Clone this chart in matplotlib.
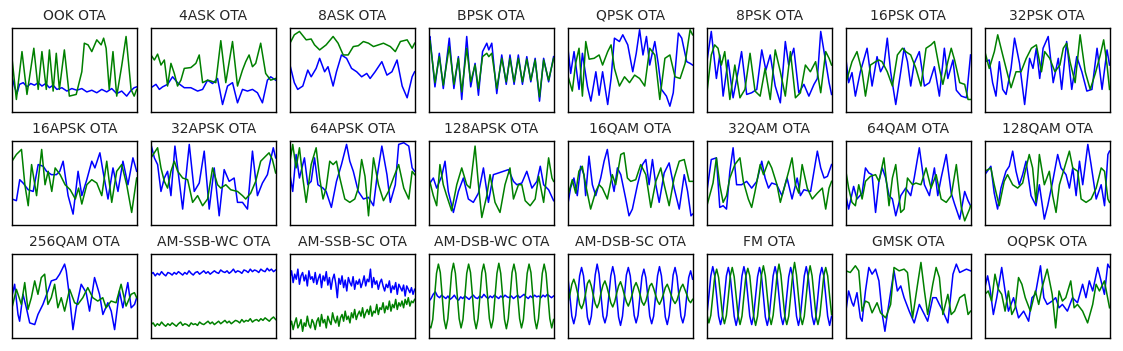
import numpy as np
import matplotlib
matplotlib.use("Agg")
import matplotlib.pyplot as plt

# Each series: either a list of (t, v) keypoints or plain evenly spaced values.
# t runs 0..100 across the window, v is 0..100 of the panel height.

# ─── ROW 1 ──────────────────────────────────────────────────────────
ook_blue = [(0,42),(2,30),(4,22),(6,33),(9,35),(12,30),(15,34),(18,32),(21,35),(24,31),(27,34),(30,29),(33,32),(36,27),(40,29),(44,25),(48,28),(52,26),(56,28),(60,24),(64,26),(68,23),(72,27),(76,24),(80,28),(84,22),(88,25),(92,19),(95,25),(98,29),(100,30)]
ook_green = [(0,64),(3.5,15),(8,72),(12,21),(17.5,76),(21,27),(24,72),(27.5,27),(30,74),(33,25),(35.5,70),(38,27),(42,74),(46,19),(51.5,21),(56,48),(58,82),(61,80),(64,72),(68,86),(71.5,80),(73.5,88),(75.5,76),(78,27),(81,72),(84,19),(88,55),(91.5,90),(95.5,27),(98,19),(100,27)]

ask4_blue = [(0,29),(4,33),(6.7,27),(9.3,30),(13.3,33),(17.3,42),(21.3,35),(26.7,29),(32,29),(37.4,25),(41.4,27),(45.4,38),(49.4,34),(53.4,40),(57.4,9),(61.4,31),(65.4,35),(69.4,11),(73.4,27),(77.4,25),(81.4,27),(85.4,23),(89.4,11),(93.4,38),(96,42),(100,38)]
ask4_green = [(0,68),(2.7,62),(5.3,69),(8,56),(10.7,62),(13.3,31),(16,58),(18.7,46),(21.3,31),(24,38),(26.7,52),(32,53),(36,58),(38.7,68),(41.4,35),(45.4,38),(48,37),(52,35),(56,85),(60,35),(65.4,84),(69.4,31),(73.4,50),(76,60),(78.7,68),(81.4,54),(84,58),(88,82),(92,46),(96,38),(100,40)]

ask8_blue = [(0,56),(3.5,35),(6.2,27),(10.3,31),(14.3,50),(17,42),(21,52),(23.8,64),(27.8,48),(30.5,54),(34.6,31),(37.3,48),(41.3,68),(45.4,64),(49.4,52),(53.5,48),(57.5,42),(61.6,46),(64.3,40),(68.3,48),(73.7,60),(77.8,44),(81.8,48),(85.9,62),(90,31),(94,17),(98,42),(100,48)]
ask8_green = [(0,82),(3.5,92),(7.6,96),(10.3,91),(13,86),(17,87),(19.7,80),(23.8,74),(29,80),(34.6,90),(38.6,82),(42.7,68),(46.7,68),(50.8,78),(54.8,79),(58.9,84),(63,82),(67,78),(71,80),(75,82),(80.5,78),(84.5,72),(88.6,84),(94,86),(98,76),(100,82)]

bpsk_blue = [(0,88),(0.8,90),(4.8,30),(8.3,70),(11.5,28),(16.3,88),(20,28),(23.6,66),(26.3,15),(30.3,90),(33.5,30),(37,58),(39.7,20),(43,72),(46.4,82),(48,74),(50.4,82),(54.4,22),(58.4,68),(62,33),(65,68),(68.3,33),(71.7,68),(75,33),(78.5,66),(81.7,36),(85.2,64),(88.7,13),(92,64),(96,36),(100,66)]
bpsk_green = [(0,82),(0.8,85),(4.8,35),(8.3,66),(11.5,32),(16.3,78),(20,33),(23.6,64),(26.3,24),(30.3,76),(33.5,36),(37,56),(39.7,28),(43,66),(46.4,70),(48,66),(50.4,70),(54.4,28),(58.4,64),(62,36),(65,64),(68.3,36),(71.7,64),(75,36),(78.5,63),(81.7,38),(85.2,62),(88.7,18),(92,62),(96,38),(100,64)]

qpsk_blue = [(0,76),(2.2,46),(4.9,72),(8.9,27),(11.6,70),(15.7,30),(18.4,13),(22.4,48),(25,20),(27.8,48),(31.9,9),(34.6,40),(37.3,88),(41.3,84),(44,92),(48,80),(52,48),(54.8,70),(57.5,98),(60.2,68),(63,90),(65.6,56),(69.7,84),(72.4,58),(75,27),(79,19),(81.8,7),(84.5,23),(88.6,94),(91.3,88),(95.3,60),(98,58),(100,56)]
qpsk_green = [(0,43),(3.5,25),(6.2,58),(8.9,76),(11.6,19),(14.3,84),(17,63),(21,64),(25,68),(27.8,56),(31.9,72),(34.6,80),(37.3,52),(41.3,31),(45.4,42),(49.4,35),(53.5,44),(57.5,40),(61.6,31),(65.6,76),(69.7,68),(73.7,15),(77.8,64),(81.8,68),(85.9,42),(90,40),(94,58),(98,98),(100,92)]

psk8_blue = [(0,60),(3.5,96),(7.6,40),(10.3,68),(13,19),(17,62),(21,17),(25,48),(27.8,72),(31.9,21),(35.9,23),(40,27),(44,74),(47.3,50),(50.8,68),(54.8,31),(58.9,11),(62.9,84),(65.6,56),(69.7,76),(73.7,23),(77.8,33),(81.8,19),(85.9,33),(88.6,40),(91.3,96),(95.3,60),(98,35),(100,21)]
psk8_green = [(0,23),(3.5,68),(6.2,80),(8.9,76),(11.6,56),(14.3,72),(18.4,15),(22.4,56),(26.5,17),(30.5,27),(34.6,70),(38.6,25),(42.7,19),(46.7,52),(50.8,15),(54.8,74),(58.9,48),(62.9,19),(67,72),(71,17),(75,23),(79,56),(83,48),(87.2,60),(91.3,23),(95.3,72),(98,64),(100,56)]

psk16_blue = [(0,64),(2.2,35),(4.9,47),(7.6,19),(11.6,48),(17,76),(21,31),(25,66),(27.8,48),(30.5,56),(33.2,88),(35.9,48),(40,9),(44,48),(46.7,76),(49.4,60),(52,31),(54.8,58),(58.9,72),(63,31),(67,35),(71,54),(75,19),(79,76),(81.8,40),(85.9,62),(88.6,26),(92.6,19),(96.7,17),(100,68)]
psk16_green = [(0,35),(4.9,60),(8.9,72),(13,48),(15.7,19),(19.7,56),(23.8,60),(26.5,62),(29,60),(33.2,48),(37.3,31),(41.3,68),(45.4,76),(48,72),(52,68),(56.2,52),(60.2,31),(64.3,76),(68.3,80),(71,84),(75,52),(77.8,33),(81.8,60),(84.5,76),(87.2,62),(91.3,35),(95.3,33),(98,15),(100,15)]

psk32_blue = [(0,60),(3.5,62),(6.2,35),(8.9,19),(11.6,60),(14.3,27),(17,21),(21,52),(23.8,88),(27.8,58),(31.9,9),(35.9,64),(38.6,52),(41.3,76),(44,40),(46.7,76),(50.8,90),(54.8,35),(58.9,64),(61.6,27),(65.6,84),(69.7,27),(73.7,66),(77.8,48),(81.8,25),(85.9,27),(90,76),(94,27),(98,74),(100,56)]
psk32_green = [(0,72),(3.5,52),(7.6,72),(10.3,92),(14.3,68),(18.4,44),(21,29),(25,48),(29,48),(33.2,64),(37.3,76),(41.3,80),(45.4,48),(48,72),(52,64),(56.2,48),(60.2,56),(62.9,76),(65.6,82),(68.3,60),(72.4,35),(76.4,92),(80.5,48),(84.5,27),(88.6,46),(92.6,68),(95.3,86),(98,56),(100,27)]

# ─── ROW 2 ──────────────────────────────────────────────────────────
apsk16_blue = [(0,31),(3.5,29),(6.2,54),(8.9,50),(13,42),(17,40),(21,72),(25,70),(27.7,64),(31.6,60),(35.6,60),(38.3,64),(41,76),(45,35),(49,13),(53,64),(56,35),(60,54),(64,76),(66.5,68),(70.5,86),(73,64),(77,31),(81,68),(85,40),(89,76),(93,48),(97,80),(100,64)]
apsk16_green = [(0,76),(3.5,84),(7.6,90),(10.3,48),(13,23),(15.7,72),(19.7,35),(23.8,90),(26.5,48),(29,64),(31.9,40),(34.6,68),(38.6,60),(42.6,48),(46.7,42),(50.8,31),(53.4,44),(56,25),(60,48),(64,54),(68,50),(72,35),(76,76),(80,27),(84,64),(88,72),(92,48),(96,15),(100,56)]

apsk32_blue = [(0,96),(2.7,80),(5.3,72),(8,40),(10.7,56),(13.3,64),(16,35),(19.2,94),(22.7,52),(25.4,19),(30.7,96),(34.7,40),(38.7,50),(42.7,88),(46.7,19),(50.7,68),(54.7,11),(58.7,66),(62.7,52),(66.7,56),(69.4,27),(73.4,27),(77.4,19),(81.4,88),(85.4,35),(89.4,50),(93.4,60),(96,78),(98.1,92),(100,80)]
apsk32_green = [(0,80),(5.3,92),(8,68),(10.7,52),(13.3,44),(16,64),(18.7,76),(21.4,64),(25.4,56),(29.4,54),(33.4,27),(37.4,35),(41.4,23),(45.4,31),(49.4,68),(53.4,48),(56,44),(60,48),(64,42),(69.4,40),(73.4,35),(76,31),(80,38),(84,52),(88,76),(92,82),(94.7,86),(97.4,78),(100,62)]

apsk64_blue = [(0,60),(2.2,40),(4.9,84),(7.6,56),(11.6,80),(14.3,48),(17,52),(19.7,80),(22.4,48),(26.5,44),(29,40),(33.2,21),(37.3,52),(41.3,72),(45.4,96),(48,76),(50.8,64),(54.8,40),(58.9,31),(63,33),(67,23),(69.7,56),(73.7,94),(77.8,60),(80.5,27),(84.5,48),(87.2,96),(91.3,98),(95.3,94),(98,68),(100,64)]
apsk64_green = [(0,76),(2.2,96),(4.9,68),(7.6,92),(10.3,56),(13,27),(17,72),(21,92),(23.8,56),(26.5,31),(29,44),(31.9,76),(34.6,72),(37.3,76),(40,56),(44,31),(48,27),(52,31),(54.8,44),(57.5,78),(60.2,58),(63,11),(67,80),(71,48),(75,29),(79,40),(83,56),(87.2,72),(91.3,44),(95.3,31),(98,64),(100,60)]

apsk128_blue = [(0,48),(3.5,56),(6.2,44),(10.2,58),(12.9,76),(15.5,40),(19.6,15),(23.6,40),(27.6,56),(31.6,31),(35.6,27),(39.7,38),(43.7,68),(47.7,27),(51.7,60),(55.8,62),(59.8,64),(63.8,66),(67.8,52),(70.5,48),(74.5,50),(78.5,64),(82.6,44),(86.6,52),(89.3,70),(92,48),(96,42),(100,29)]
apsk128_green = [(0,56),(3.5,35),(6.2,23),(8.8,72),(11.5,48),(14.2,35),(18.2,17),(22.3,48),(26.3,68),(30.3,48),(33,44),(37,94),(39.7,48),(42.4,9),(46.4,35),(49,60),(53,27),(57,15),(61,48),(65,68),(67.8,31),(71.8,48),(74.5,48),(77.2,29),(81.2,23),(85.2,31),(88,58),(92,27),(96,80),(98.7,56),(100,52)]

qam16_blue = [(0,25),(2.1,44),(4.8,56),(7.5,35),(10.2,70),(12.9,60),(14.2,35),(16.9,82),(19.6,48),(22.3,35),(26.3,56),(29,76),(31.6,90),(34.3,60),(37,40),(39.7,68),(42.4,60),(46.4,31),(49,11),(51.7,19),(55.8,48),(59.8,72),(62.5,78),(65.1,48),(67.8,78),(70.5,48),(73.2,27),(77.2,62),(81.2,74),(85.2,44),(89.3,19),(93.3,60),(96,40),(98.7,11),(100,13)]
qam16_green = [(0,35),(3.5,54),(6.2,38),(8.8,64),(11.5,70),(14.2,48),(18.2,19),(22.3,40),(25,48),(27.6,44),(31.6,31),(35.6,60),(38.3,48),(42.4,84),(45,86),(47.7,56),(50.4,52),(54.4,54),(58.4,72),(62.5,60),(66.5,21),(70.5,52),(74.5,68),(77.2,48),(81.2,23),(85.2,56),(89.3,76),(93.3,78),(97.3,52),(100,52)]

qam32_blue = [(0,40),(3.5,78),(7.6,80),(10.3,21),(13,23),(15.7,19),(18.4,64),(21,92),(23.8,48),(27.8,48),(31.9,52),(35.9,44),(40,52),(44,76),(46.7,56),(49.4,44),(52,50),(56,48),(60.2,35),(64.3,56),(68.3,31),(72.4,56),(75,35),(77.8,42),(83.2,40),(88.6,88),(91.3,68),(94,56),(96.7,58),(100,72)]
qam32_green = [(0,23),(4.9,50),(7.6,80),(10.3,48),(13,27),(15.7,35),(18.4,56),(22.4,72),(26.5,80),(29.2,52),(33.2,31),(35.9,21),(38.6,40),(42.7,72),(45.4,60),(49.4,76),(52,68),(56.2,48),(58.9,27),(61.6,42),(65.6,64),(68.3,80),(71,48),(73.7,38),(76.4,72),(80.5,44),(84.5,31),(88.6,38),(92.6,44),(95.3,19),(98,44),(100,52)]

qam64_blue = [(0,35),(2.2,19),(6.2,46),(8.9,31),(13,38),(15.7,68),(18.4,62),(21,60),(23.8,15),(26.5,52),(29.2,68),(31.9,56),(34.6,35),(37.3,31),(40,11),(44,35),(48,44),(52,35),(54.8,56),(58.9,92),(63,48),(67,35),(71,68),(73.7,35),(76.4,56),(80.5,84),(84.5,38),(87.2,25),(91.3,7),(95.3,40),(98,29),(100,23)]
qam64_green = [(0,64),(2.2,44),(4.9,27),(7.6,23),(10.3,48),(13,31),(15.7,52),(19.7,58),(23.8,60),(26.5,52),(30.5,80),(34.6,23),(37.3,56),(40,72),(44,15),(46.7,19),(49.4,56),(53.5,48),(56.2,50),(60.2,48),(64.3,68),(68.3,44),(72.4,60),(76.4,31),(80.5,27),(84.5,35),(88.6,72),(92.6,21),(95.3,5),(99.2,19),(100,23)]

qam128_blue = [(0,60),(4.8,70),(7.5,38),(10.2,19),(12.9,44),(16.9,64),(19.6,70),(22.3,88),(25,64),(27.6,48),(30.3,60),(33,76),(37,35),(41,23),(43.7,48),(47.7,7),(50.4,23),(54.4,52),(58.4,84),(61.1,68),(65.1,60),(67.8,44),(70.5,68),(73.2,35),(75.9,76),(78.5,48),(82.6,96),(85.2,72),(89.3,31),(93.3,48),(96,23),(98.7,84),(100,88)]
qam128_green = [(0,64),(4.8,68),(7.5,48),(11.5,23),(15.5,52),(18.2,60),(22.3,48),(26.3,44),(30.3,50),(33,68),(35.6,84),(38.3,68),(41,27),(43.7,84),(47.7,48),(51.7,64),(54.4,35),(57.1,15),(59.8,48),(63.8,68),(67.8,88),(70.5,68),(74.5,64),(77.2,31),(81.2,27),(85.2,31),(89.3,44),(93.3,68),(96,64),(98.7,31),(100,27)]

# ─── ROW 3 ──────────────────────────────────────────────────────────
qam256_blue = [(0,50),(2.1,64),(4.8,28),(6.1,20),(8.8,52),(11.5,36),(14.2,18),(18.2,16),(20.8,28),(24.8,40),(28.8,56),(31.5,68),(35.5,70),(38.2,76),(42.2,88),(43.5,80),(46.2,48),(48.9,10),(51.5,36),(55.5,64),(59.5,54),(62.2,32),(66.2,72),(70.2,52),(72.9,28),(76.9,42),(79.6,32),(82.3,10),(86.2,56),(88.9,36),(92.9,66),(95.6,36),(98.3,40),(100,48)]
qam256_green = [(0,36),(3.5,58),(7.5,40),(10.2,66),(12.8,34),(15.5,48),(18.2,68),(20.8,52),(23.5,72),(26.2,76),(28.8,40),(31.5,48),(34.2,64),(36.8,36),(39.5,48),(42.2,32),(46.2,58),(50.2,42),(52.8,40),(56.8,48),(60.8,60),(64.8,48),(68.8,44),(72.8,48),(75.5,36),(79.5,44),(83.5,42),(87.5,64),(91.5,38),(95.5,52),(98.2,54),(100,48)]

ssbwc_blue = [76,78,74,77,75,79,76,74,78,77,75,78,76,79,77,75,78,76,80,77,75,78,79,76,78,80,77,79,76,78,80,78,77,81,79,78,80,77,79,82,78,80,79,77,81,80,78,82,79,81,80,78,82,80,79,83,80,82,79,81]
ssbwc_green = [16,18,14,17,15,19,16,14,17,15,18,16,14,17,19,15,17,16,14,18,16,17,15,19,17,16,18,20,17,19,16,18,20,17,19,21,18,20,17,19,21,20,18,22,19,21,20,23,19,21,22,20,23,21,24,22,20,23,25,22]

ssbsc_blue = [72,80,66,76,70,82,64,74,78,68,75,62,80,70,73,66,78,64,71,76,60,74,68,79,63,72,58,70,76,65,48,71,64,74,60,69,56,72,66,62,73,58,68,64,70,60,66,74,62,70,67,82,60,72,64,68,58,66,70,62,56,64,60,68,54,62,58,66,52,64,60,56,63,50,62,58,54,60,52,58]
ssbsc_green = [14,20,10,18,24,12,16,22,8,18,14,26,16,12,22,18,10,20,24,14,28,18,22,12,26,20,16,30,22,18,26,14,24,28,20,32,22,26,18,30,24,34,22,28,32,26,36,24,30,34,28,38,26,32,30,40,28,36,34,42,30,38,34,44,32,40,36,46,34,42,38,44,36,46,40,48,38,44,42,46]

dsbwc_blue = [44,47,52,55,50,48,51,49,47,50,46,48,51,47,45,49,47,50,48,46,49,51,48,47,50,48,52,49,47,50,48,51,49,47,50,48,51,49,48,50,47,49,51,48,50,52,49,47,50,48,51,49,50,48,51,49,52,50,48,50]
dsbwc_green = [15,12,22,50,77,88,78,50,22,11,23,50,78,89,77,50,23,12,22,49,77,88,78,51,22,11,23,50,78,88,77,50,
               23,12,22,50,77,89,77,50,22,11,23,50,78,88,77,49,23,12,22,50,77,88,78,50,22,11,23,50,77,88,77,50,23,12,22]

dsbsc_blue = [72,50,26,17,27,50,74,84,74,50,25,16,26,50,75,88,76,50,26,18,27,50,74,85,74,50,25,15,26,50,75,84,
              74,50,27,18,27,50,73,82,72,50,26,17,26,50,74,85,74,50,25,16,27,50,75,84,73,50,26,18,27,50,72,80,70]
dsbsc_green = [42,52,64,70,63,53,40,35,41,52,65,69,62,51,41,36,42,54,63,68,61,52,42,37,43,53,62,67,60,51,43,38,
               44,52,61,66,60,52,43,39,44,53,62,65,59,51,44,40,45,52,60,64,58,51,45,41,45,53,60,64,58,52,45,42,46]

fm_blue = [28,50,74,85,74,50,26,16,26,50,74,84,73,50,26,15,26,50,74,85,74,50,26,16,27,50,73,84,74,50,25,15,
           26,50,74,85,74,50,26,16,26,50,73,84,74,50,26,15,26,50,74,85,73,50,26,16,26,50,74,84,74,50,26,15,26]
fm_green = [28,18,27,50,73,82,72,50,27,17,27,50,74,84,73,50,27,16,26,50,74,83,74,50,26,15,26,50,75,86,74,50,
            26,16,27,50,75,88,75,50,26,16,26,50,75,90,75,50,26,16,26,50,74,86,74,50,26,16,27,50,74,84,74,50,28]

gmsk_blue = [(0,32),(2.2,56),(4.9,42),(6.2,38),(8.9,54),(11.6,24),(13,20),(15.7,56),(18.4,84),(21,76),(23.8,82),(26.5,68),(29.2,28),(31.3,8),(34,36),(37.3,68),(38.6,80),(41.3,56),(44,62),(46.7,48),(50.8,32),(54.8,18),(58.9,40),(63,28),(65.6,20),(69.7,48),(72.4,48),(75,40),(77.8,32),(81.8,18),(85.9,76),(88.6,88),(91.3,78),(94,80),(96.7,82),(100,80)]
gmsk_green = [(0,80),(3.5,78),(7.6,86),(10.3,80),(13,32),(15.7,44),(18.4,42),(21,30),(25,42),(27.8,30),(31.9,24),(35.9,40),(38.6,84),(42.7,80),(46.7,82),(49.4,78),(53.5,24),(57.5,64),(60.2,90),(63,56),(65.6,28),(69.7,64),(72.4,84),(75,72),(77.8,28),(81.8,52),(84.5,28),(87.2,32),(91.3,48),(95.3,52),(98,28),(100,32)]

oqpsk_blue = [(0,60),(2.2,74),(4,60),(6.8,28),(9.5,48),(13.5,84),(16.2,56),(18.9,32),(23,48),(27,24),(31.1,32),(35.1,20),(37.8,48),(40.5,52),(44.6,86),(47.3,48),(50,40),(54,44),(56.8,48),(59.5,36),(62.2,40),(66.2,32),(70.3,48),(74.3,42),(78.4,64),(81.1,48),(83.8,68),(86.5,56),(90.5,84),(93.2,68),(95.9,52),(98.6,88),(100,84)]
oqpsk_green = [(0,52),(2.7,56),(5.4,44),(8.1,76),(10.8,58),(13.5,52),(16.2,32),(18.9,56),(21.6,28),(24.3,36),(27,72),(29.7,64),(32.4,48),(36.5,32),(40.5,56),(43.2,40),(45.9,60),(50,82),(54,52),(56.8,12),(59.5,56),(62.2,44),(64.9,48),(68.9,68),(71.6,36),(74.3,40),(78.4,32),(82.4,18),(86.5,40),(89.2,64),(91.9,56),(95.9,68),(100,36)]

titles = ["OOK OTA", "4ASK OTA", "8ASK OTA", "BPSK OTA", "QPSK OTA", "8PSK OTA", "16PSK OTA", "32PSK OTA",
          "16APSK OTA", "32APSK OTA", "64APSK OTA", "128APSK OTA", "16QAM OTA", "32QAM OTA", "64QAM OTA", "128QAM OTA",
          "256QAM OTA", "AM-SSB-WC OTA", "AM-SSB-SC OTA", "AM-DSB-WC OTA", "AM-DSB-SC OTA", "FM OTA", "GMSK OTA", "OQPSK OTA"]
blues = [ook_blue, ask4_blue, ask8_blue, bpsk_blue, qpsk_blue, psk8_blue, psk16_blue, psk32_blue,
         apsk16_blue, apsk32_blue, apsk64_blue, apsk128_blue, qam16_blue, qam32_blue, qam64_blue, qam128_blue,
         qam256_blue, ssbwc_blue, ssbsc_blue, dsbwc_blue, dsbsc_blue, fm_blue, gmsk_blue, oqpsk_blue]
greens = [ook_green, ask4_green, ask8_green, bpsk_green, qpsk_green, psk8_green, psk16_green, psk32_green,
          apsk16_green, apsk32_green, apsk64_green, apsk128_green, qam16_green, qam32_green, qam64_green, qam128_green,
          qam256_green, ssbwc_green, ssbsc_green, dsbwc_green, dsbsc_green, fm_green, gmsk_green, oqpsk_green]


def xy(series):
    # keypoints -> (t, v); plain values -> evenly spaced over the window
    if isinstance(series[0], tuple):
        a = np.array(series, dtype=float)
        return a[:, 0], a[:, 1]
    v = np.array(series, dtype=float)
    return np.linspace(0, 100, len(v)), v


fig, axes = plt.subplots(3, 8, figsize=(11.23, 3.51), dpi=100)
fig.subplots_adjust(left=0.0107, right=0.988, top=0.920, bottom=0.037, wspace=0.115, hspace=0.345)

for ax, title, b, g in zip(axes.flat, titles, blues, greens):
    ax.plot(*xy(b), color="b", lw=1.1, solid_joinstyle="round")
    ax.plot(*xy(g), color="g", lw=1.1, solid_joinstyle="round")
    ax.set_xlim(0, 100); ax.set_ylim(0, 100)
    ax.set_xticks([]); ax.set_yticks([])
    for s in ax.spines.values():
        s.set_linewidth(1.0); s.set_color("black")
    ax.set_title(title, fontsize=10, color="#262626")

fig.savefig("out.png", dpi=100, facecolor="white")
